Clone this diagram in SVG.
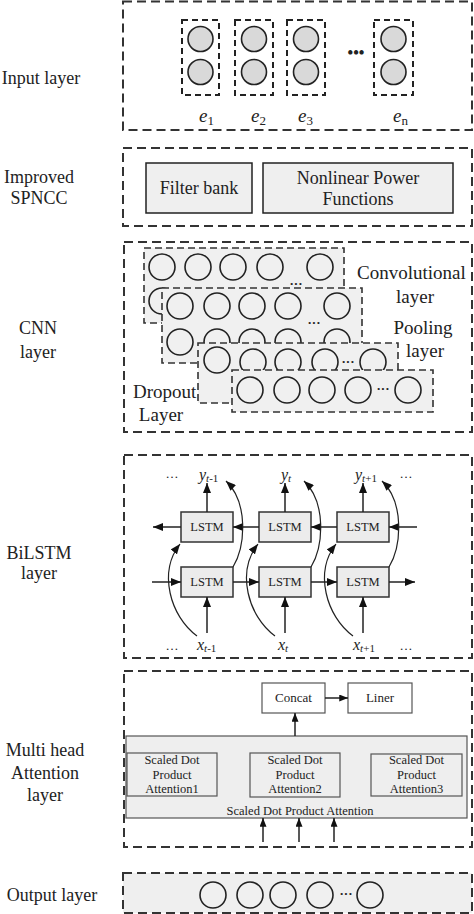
<svg xmlns="http://www.w3.org/2000/svg" width="474" height="914" viewBox="0 0 474 914">
<defs>
<style>
text{font-family:"Liberation Serif","Times New Roman",serif;fill:#222}
.lbl{font-size:18px;text-anchor:middle}
.outer{fill:none;stroke:#333;stroke-width:2;stroke-dasharray:9 5}
.ebox{fill:none;stroke:#222;stroke-width:2;stroke-dasharray:6 4}
.ecirc{fill:#d9d9d9;stroke:#222;stroke-width:1.6}
.cbox{fill:#f0f0f0;stroke:#333;stroke-width:1.6;stroke-dasharray:7 4}
.ccirc{fill:#f0f0f0;stroke:#222;stroke-width:1.6}
.gbox{fill:#efefef;stroke:#222;stroke-width:1.5}
.lstm{fill:#ececec;stroke:#333;stroke-width:1.5}
.wbox{fill:#fff;stroke:#555;stroke-width:1.2}
.abox{fill:#eeeeee;stroke:#555;stroke-width:1.2}
.ln{fill:none;stroke:#222;stroke-width:1.5}
.cv{fill:none;stroke:#222;stroke-width:1.2}
.it{font-style:italic}
.c{text-anchor:middle}
</style>
<marker id="ah" viewBox="0 0 10 8" refX="10" refY="4" markerWidth="10" markerHeight="8" markerUnits="userSpaceOnUse" orient="auto"><path d="M0,0 L10,4 L0,8 z" fill="#111"/></marker>
<marker id="ahs" viewBox="0 0 10 8" refX="10" refY="4" markerWidth="9" markerHeight="7" markerUnits="userSpaceOnUse" orient="auto"><path d="M0,0 L10,4 L0,8 z" fill="#111"/></marker>
</defs>
<rect width="474" height="914" fill="#fff"/>

<g id="labels">
<text class="lbl" x="41" y="84">Input layer</text>
<text class="lbl" x="39" y="183">Improved</text>
<text class="lbl" x="39" y="204">SPNCC</text>
<text class="lbl" x="38" y="334">CNN</text>
<text class="lbl" x="38" y="358">layer</text>
<text class="lbl" x="39" y="559">BiLSTM</text>
<text class="lbl" x="39" y="579">layer</text>
<text class="lbl" x="45" y="756">Multi head</text>
<text class="lbl" x="45" y="779">Attention</text>
<text class="lbl" x="45" y="801">layer</text>
<text class="lbl" x="52" y="901">Output layer</text>
</g>

<g id="input-layer">
<rect class="outer" x="123" y="1.5" width="349" height="128.5"/>
<g id="e1"><rect class="ebox" x="182" y="20" width="37" height="75"/><circle class="ecirc" cx="200.5" cy="39" r="12.5"/><circle class="ecirc" cx="200.5" cy="72" r="12.5"/></g>
<g id="e2"><rect class="ebox" x="235" y="20" width="38" height="75"/><circle class="ecirc" cx="254" cy="39" r="12.5"/><circle class="ecirc" cx="254" cy="72" r="12.5"/></g>
<g id="e3"><rect class="ebox" x="287" y="20" width="38" height="75"/><circle class="ecirc" cx="306" cy="39" r="12.5"/><circle class="ecirc" cx="306" cy="72" r="12.5"/></g>
<g id="en"><rect class="ebox" x="374" y="20" width="39" height="75"/><circle class="ecirc" cx="393.5" cy="39" r="12.5"/><circle class="ecirc" cx="393.5" cy="72" r="12.5"/></g>
<text x="356" y="58" class="c" style="font-size:16px;font-weight:bold">•••</text>
<text x="199" y="122" class="it" style="font-size:19px">e<tspan style="font-style:normal;font-size:13px" dy="3">1</tspan></text>
<text x="251" y="122" class="it" style="font-size:19px">e<tspan style="font-style:normal;font-size:13px" dy="3">2</tspan></text>
<text x="298" y="122" class="it" style="font-size:19px">e<tspan style="font-style:normal;font-size:13px" dy="3">3</tspan></text>
<text x="393" y="122" class="it" style="font-size:19px">e<tspan style="font-style:normal;font-size:13px" dy="3">n</tspan></text>
</g>

<g id="spncc">
<rect class="outer" x="123" y="148" width="349" height="78"/>
<g id="filter-bank"><rect class="gbox" x="146" y="163" width="106" height="50"/><text class="lbl" x="199" y="194">Filter bank</text></g>
<g id="nonlinear"><rect class="gbox" x="263" y="163" width="190" height="50"/><text class="lbl" x="358" y="184">Nonlinear Power</text><text class="lbl" x="358" y="205">Functions</text></g>
</g>

<g id="cnn-layer">
<rect class="outer" x="124" y="242" width="348" height="190"/>
<g id="conv-map">
<rect class="cbox" x="144" y="248" width="200" height="75"/>
<circle class="ccirc" cx="162" cy="267" r="13"/><circle class="ccirc" cx="198" cy="267" r="13"/><circle class="ccirc" cx="233" cy="267" r="13"/><circle class="ccirc" cx="270" cy="267" r="13"/><circle class="ccirc" cx="320" cy="267" r="13"/>
<circle class="ccirc" cx="162" cy="301" r="13"/>
<text x="296" y="288" class="c" style="font-size:13px;font-weight:bold">···</text>
</g>
<g id="pool-map">
<rect class="cbox" x="162" y="288" width="200" height="75"/>
<circle class="ccirc" cx="180" cy="306" r="13"/><circle class="ccirc" cx="217" cy="306" r="13"/><circle class="ccirc" cx="252" cy="306" r="13"/><circle class="ccirc" cx="288" cy="306" r="13"/><circle class="ccirc" cx="337" cy="306" r="13"/>
<circle class="ccirc" cx="180" cy="342" r="13"/><circle class="ccirc" cx="217" cy="342" r="13"/><circle class="ccirc" cx="252" cy="342" r="13"/><circle class="ccirc" cx="288" cy="342" r="13"/><circle class="ccirc" cx="337" cy="342" r="13"/>
<text x="314" y="327" class="c" style="font-size:13px;font-weight:bold">···</text>
</g>
<g id="drop-map">
<rect class="cbox" x="198" y="343" width="200" height="60"/>
<circle class="ccirc" cx="217" cy="360" r="13"/><circle class="ccirc" cx="253" cy="362" r="13"/><circle class="ccirc" cx="288" cy="362" r="13"/><circle class="ccirc" cx="325" cy="362" r="13"/><circle class="ccirc" cx="373" cy="362" r="13"/>
<text x="348" y="366" class="c" style="font-size:13px;font-weight:bold">···</text>
</g>
<g id="out-map">
<rect class="cbox" x="232" y="370" width="201" height="42"/>
<circle class="ccirc" cx="250" cy="390" r="13"/><circle class="ccirc" cx="287" cy="390" r="13"/><circle class="ccirc" cx="322" cy="390" r="13"/><circle class="ccirc" cx="358" cy="390" r="13"/><circle class="ccirc" cx="408" cy="390" r="13"/>
<text x="383" y="393" class="c" style="font-size:13px;font-weight:bold">···</text>
</g>
<text x="357" y="279" style="font-size:19px">Convolutional</text>
<text class="lbl" x="415" y="303" style="font-size:19px">layer</text>
<text class="lbl" x="423" y="334" style="font-size:19px">Pooling</text>
<text class="lbl" x="425" y="357" style="font-size:19px">layer</text>
<text x="133" y="398" style="font-size:19px">Dropout</text>
<text class="lbl" x="161" y="421" style="font-size:19px">Layer</text>
</g>

<g id="bilstm-layer">
<rect class="outer" x="124" y="455" width="348" height="203"/>
<g id="lstm-f1"><rect class="lstm" x="181" y="567" width="52" height="30"/><text x="207" y="586" class="c" style="font-size:12.5px">LSTM</text></g>
<g id="lstm-f2"><rect class="lstm" x="259" y="567" width="52" height="30"/><text x="285" y="586" class="c" style="font-size:12.5px">LSTM</text></g>
<g id="lstm-f3"><rect class="lstm" x="337" y="567" width="52" height="30"/><text x="363" y="586" class="c" style="font-size:12.5px">LSTM</text></g>
<g id="lstm-b1"><rect class="lstm" x="181" y="512" width="52" height="30"/><text x="207" y="531" class="c" style="font-size:12.5px">LSTM</text></g>
<g id="lstm-b2"><rect class="lstm" x="259" y="512" width="52" height="30"/><text x="285" y="531" class="c" style="font-size:12.5px">LSTM</text></g>
<g id="lstm-b3"><rect class="lstm" x="337" y="512" width="52" height="30"/><text x="363" y="531" class="c" style="font-size:12.5px">LSTM</text></g>
<g style="font-size:16px">
<text x="172" y="478" class="c" style="font-size:13px">…</text>
<text x="406" y="478" class="c" style="font-size:13px">…</text>
<text x="172" y="650" class="c" style="font-size:13px">…</text>
<text x="406" y="650" class="c" style="font-size:13px">…</text>
<text x="199" y="480" class="it">y<tspan dy="2" style="font-size:11px">t</tspan><tspan style="font-size:11px;font-style:normal">-1</tspan></text>
<text x="281" y="480" class="it">y<tspan dy="2" style="font-size:11px">t</tspan></text>
<text x="355" y="480" class="it">y<tspan dy="2" style="font-size:11px">t</tspan><tspan style="font-size:11px;font-style:normal">+1</tspan></text>
<text x="197" y="650" class="it">x<tspan dy="2" style="font-size:11px">t</tspan><tspan style="font-size:11px;font-style:normal">-1</tspan></text>
<text x="278" y="650" class="it">x<tspan dy="2" style="font-size:11px">t</tspan></text>
<text x="353" y="650" class="it">x<tspan dy="2" style="font-size:11px">t</tspan><tspan style="font-size:11px;font-style:normal">+1</tspan></text>
</g>
</g>

<g id="attention-layer">
<rect class="outer" x="124" y="671" width="348" height="176"/>
<g id="concat"><rect class="wbox" x="262" y="683" width="63" height="30"/><text x="293.5" y="702" class="c" style="font-size:13px">Concat</text></g>
<g id="liner"><rect class="wbox" x="348" y="683" width="64" height="30"/><text x="380" y="702" class="c" style="font-size:13px">Liner</text></g>
<g id="sdpa"><rect class="abox" x="126" y="736" width="341" height="82"/><text x="300" y="815" class="c" style="font-size:12.5px">Scaled Dot Product Attention</text></g>
<g id="sdpa1"><rect class="abox" x="127" y="753" width="90" height="43"/><text class="c" style="font-size:12.5px"><tspan x="172" y="764">Scaled Dot</tspan><tspan x="172" y="779">Product</tspan><tspan x="172" y="793">Attention1</tspan></text></g>
<g id="sdpa2"><rect class="abox" x="250" y="753" width="90" height="44"/><text class="c" style="font-size:12.5px"><tspan x="295" y="764">Scaled Dot</tspan><tspan x="295" y="779">Product</tspan><tspan x="295" y="793">Attention2</tspan></text></g>
<g id="sdpa3"><rect class="abox" x="371" y="754" width="91" height="42"/><text class="c" style="font-size:12.5px"><tspan x="416.5" y="764">Scaled Dot</tspan><tspan x="416.5" y="779">Product</tspan><tspan x="416.5" y="793">Attention3</tspan></text></g>
</g>

<g id="output-layer">
<rect class="outer" x="123" y="873" width="349" height="40" style="fill:#efefef"/>
<circle class="ccirc" cx="213" cy="895" r="13"/><circle class="ccirc" cx="250" cy="895" r="13"/><circle class="ccirc" cx="283" cy="895" r="13"/><circle class="ccirc" cx="320" cy="895" r="13"/><circle class="ccirc" cx="370" cy="895" r="13"/>
<text x="346" y="898" class="c" style="font-size:13px;font-weight:bold">···</text>
</g>

<g id="connectors">
<line class="ln" x1="207" y1="512" x2="207" y2="483" marker-end="url(#ah)"/>
<line class="ln" x1="285" y1="512" x2="285" y2="483" marker-end="url(#ah)"/>
<line class="ln" x1="363" y1="512" x2="363" y2="483" marker-end="url(#ah)"/>
<line class="ln" x1="207" y1="633" x2="207" y2="597" marker-end="url(#ah)"/>
<line class="ln" x1="285" y1="633" x2="285" y2="597" marker-end="url(#ah)"/>
<line class="ln" x1="363" y1="633" x2="363" y2="597" marker-end="url(#ah)"/>
<line class="ln" x1="181" y1="527" x2="153" y2="527" marker-end="url(#ah)"/>
<line class="ln" x1="259" y1="527" x2="233" y2="527" marker-end="url(#ah)"/>
<line class="ln" x1="337" y1="527" x2="311" y2="527" marker-end="url(#ah)"/>
<line class="ln" x1="417" y1="527" x2="389" y2="527" marker-end="url(#ah)"/>
<line class="ln" x1="152" y1="582" x2="181" y2="582" marker-end="url(#ah)"/>
<line class="ln" x1="233" y1="582" x2="259" y2="582" marker-end="url(#ah)"/>
<line class="ln" x1="311" y1="582" x2="337" y2="582" marker-end="url(#ah)"/>
<line class="ln" x1="389" y1="582" x2="415" y2="582" marker-end="url(#ah)"/>
<path class="cv" d="M233,567 C246,545 248,502 226,481" marker-end="url(#ah)"/>
<path class="cv" d="M311,567 C324,545 326,502 304,481" marker-end="url(#ah)"/>
<path class="cv" d="M389,567 C402,545 404,502 382,481" marker-end="url(#ah)"/>
<path class="cv" d="M197,636 C170,616 158,572 180,544" marker-end="url(#ah)"/>
<path class="cv" d="M275,636 C248,616 236,572 258,544" marker-end="url(#ah)"/>
<path class="cv" d="M353,636 C326,616 314,572 336,544" marker-end="url(#ah)"/>
<line class="ln" x1="325" y1="698" x2="348" y2="698" marker-end="url(#ahs)"/>
<line class="ln" x1="295" y1="736" x2="295" y2="713" marker-end="url(#ahs)"/>
<line class="ln" x1="263" y1="842" x2="263" y2="818" marker-end="url(#ahs)"/>
<line class="ln" x1="299" y1="842" x2="299" y2="818" marker-end="url(#ahs)"/>
<line class="ln" x1="334" y1="842" x2="334" y2="818" marker-end="url(#ahs)"/>
</g>
</svg>
